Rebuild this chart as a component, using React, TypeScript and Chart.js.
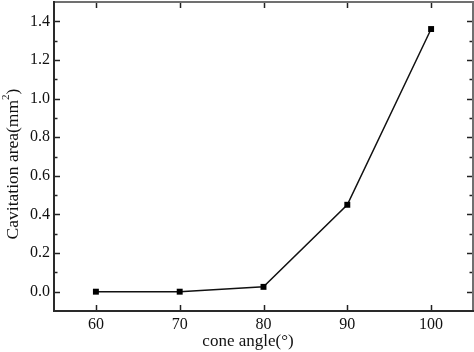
import React, { useEffect, useRef } from "react";
import { Chart, registerables } from "chart.js";

Chart.register(...registerables);

const coneAngles = [60, 70, 80, 90, 100];
const cavitationArea = [0, 0, 0.025, 0.45, 1.36];
const yMajorTicks = [0, 0.2, 0.4, 0.6, 0.8, 1.0, 1.2, 1.4];
const yMinorTicks = [0.1, 0.3, 0.5, 0.7, 0.9, 1.1, 1.3];
const xTitle = "cone angle(°)";
const yTitleMain = "Cavitation area(mm";
const yTitleSup = "2";
const yTitleEnd = ")";

const FONT = '"Liberation Serif", "Times New Roman", serif';

const frameTicks = {
  id: "frameTicks",
  afterDraw(chart: any) {
    const { ctx, chartArea, scales } = chart;
    const { left, right, top, bottom } = chartArea;
    const x = scales.x;
    const y = scales.y;
    const line = (x1: number, y1: number, x2: number, y2: number) => {
      ctx.beginPath();
      ctx.moveTo(x1, y1);
      ctx.lineTo(x2, y2);
      ctx.stroke();
    };
    ctx.save();
    ctx.lineCap = "butt";
    ctx.strokeStyle = "#222";
    ctx.lineWidth = 1.5;
    x.ticks.forEach((t: any) => {
      const px = Math.round(x.getPixelForValue(t.value)) + 0.5;
      line(px, bottom, px, bottom - 6);
      line(px, top, px, top + 6);
    });
    y.ticks.forEach((t: any) => {
      const py = Math.round(y.getPixelForValue(t.value)) + 0.5;
      line(left, py, left + 6, py);
      line(right, py, right - 6, py);
    });
    yMinorTicks.forEach((v) => {
      const py = Math.round(y.getPixelForValue(v)) + 0.5;
      line(left, py, left + 3.5, py);
      line(right, py, right - 3.5, py);
    });
    ctx.lineWidth = 2;
    ctx.strokeStyle = "#707070";
    line(left, top, right + 1, top);
    line(right, top, right, bottom);
    ctx.strokeStyle = "#2a2a2a";
    line(left, top - 1, left, bottom + 1);
    line(left - 1, bottom, right + 1, bottom);

    ctx.fillStyle = "#111";
    ctx.font = `17px ${FONT}`;
    ctx.textAlign = "center";
    ctx.textBaseline = "middle";
    ctx.fillText(xTitle, 248, 342);

    // y title with superscript
    const mainFont = `17.5px ${FONT}`;
    const supFont = `11px ${FONT}`;
    ctx.font = mainFont;
    const wMain = ctx.measureText(yTitleMain).width;
    const wEnd = ctx.measureText(yTitleEnd).width;
    ctx.font = supFont;
    const wSup = ctx.measureText(yTitleSup).width;
    const total = wMain + wSup + wEnd;
    ctx.translate(13, 164);
    ctx.rotate(-Math.PI / 2);
    ctx.textAlign = "left";
    ctx.textBaseline = "middle";
    let cx = -total / 2;
    ctx.font = mainFont;
    ctx.fillText(yTitleMain, cx, 0);
    cx += wMain;
    ctx.font = supFont;
    ctx.fillText(yTitleSup, cx, -7);
    cx += wSup;
    ctx.font = mainFont;
    ctx.fillText(yTitleEnd, cx, 0);
    ctx.restore();
  },
};

export default function App() {
  const ref = useRef<HTMLCanvasElement>(null);
  useEffect(() => {
    if (!ref.current) return;
    const chart = new Chart(ref.current, {
      type: "line",
      data: {
        datasets: [
          {
            data: coneAngles.map((c, i) => ({ x: c, y: cavitationArea[i] })),
            borderColor: "#111",
            borderWidth: 1.5,
            tension: 0,
            pointStyle: "rect",
            pointRadius: 4.2,
            pointBorderWidth: 0,
            pointBackgroundColor: "#000",
            fill: false,
          },
        ],
      },
      options: {
        responsive: false,
        animation: false,
        layout: { autoPadding: false, padding: { top: 2, right: 1, left: 0, bottom: 0 } },
        plugins: { legend: { display: false }, tooltip: { enabled: false } },
        scales: {
          x: {
            type: "linear",
            min: 55,
            max: 105,
            grid: { display: false, drawTicks: false },
            border: { display: false },
            ticks: {
              font: { family: FONT, size: 16 },
              color: "#111",
              padding: 4,
              maxRotation: 0,
            },
            afterBuildTicks: (s: any) => {
              s.ticks = coneAngles.map((v) => ({ value: v }));
            },
            afterFit: (s: any) => {
              s.height = 41;
              s.paddingLeft = 0;
              s.paddingRight = 0;
              s.paddingTop = 0;
              s.paddingBottom = 0;
            },
          },
          y: {
            type: "linear",
            min: -0.1,
            max: 1.5,
            grid: { display: false, drawTicks: false },
            border: { display: false },
            ticks: {
              font: { family: FONT, size: 16 },
              color: "#111",
              padding: 4,
              callback: (v: any) => Number(v).toFixed(1),
            },
            afterBuildTicks: (s: any) => {
              s.ticks = yMajorTicks.map((v) => ({ value: v }));
            },
            afterFit: (s: any) => {
              s.width = 54;
              s.paddingLeft = 0;
              s.paddingRight = 0;
              s.paddingTop = 0;
              s.paddingBottom = 0;
            },
          },
        },
      },
      plugins: [frameTicks],
    });
    return () => chart.destroy();
  }, []);
  return (
    <div style={{ position: "absolute", left: 0, top: 0, width: 474, height: 352, background: "#fff" }}>
      <canvas ref={ref} width={474} height={352} />
    </div>
  );
}
